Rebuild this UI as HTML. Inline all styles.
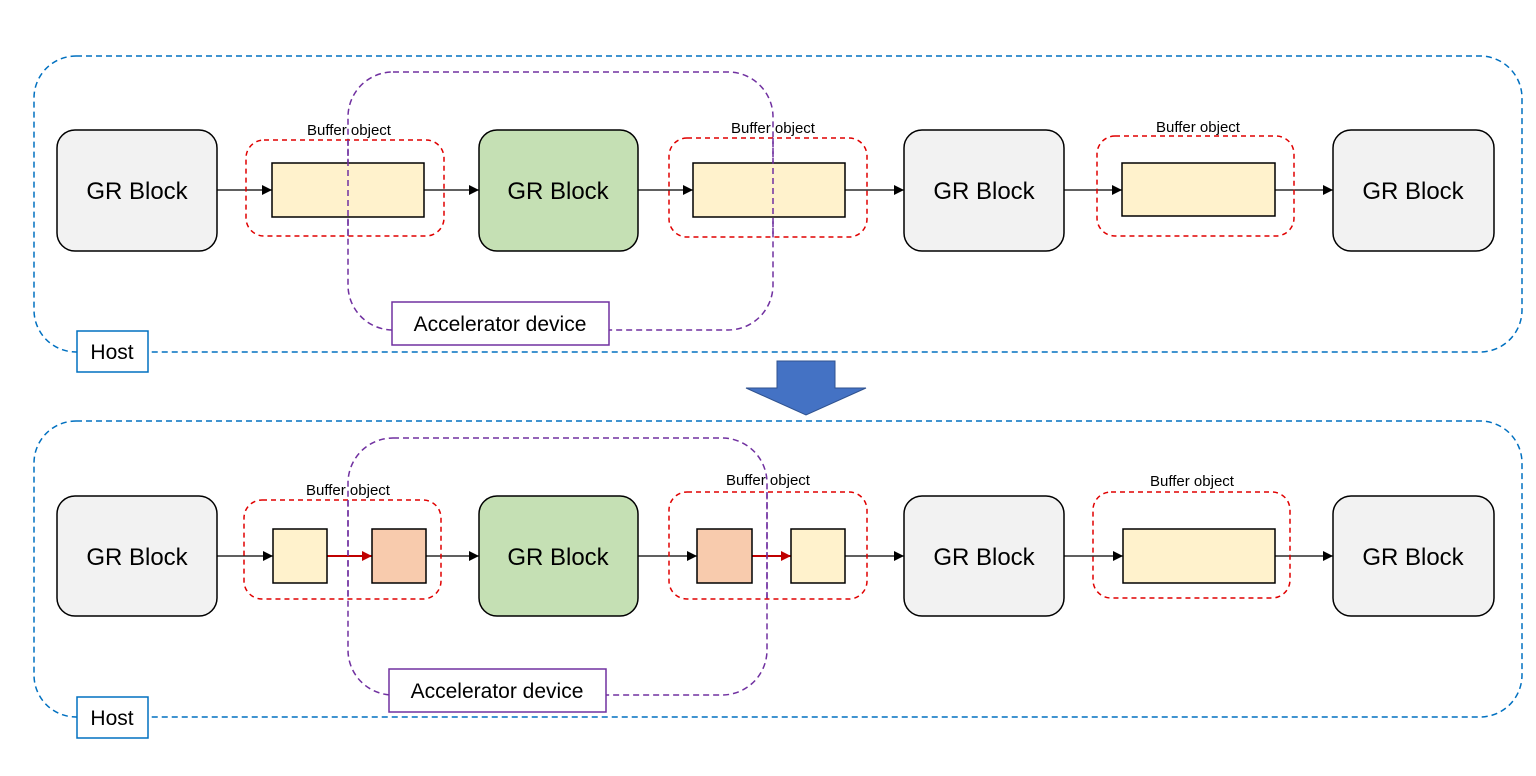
<!DOCTYPE html>
<html><head><meta charset="utf-8"><style>
html,body{margin:0;padding:0;background:#fff;}
svg{display:block;}
text{font-family:"Liberation Sans",sans-serif;}
</style></head><body>
<svg width="1536" height="776" viewBox="0 0 1536 776" xmlns="http://www.w3.org/2000/svg">
<defs>
<marker id="ab" markerWidth="10" markerHeight="10" refX="10" refY="5" orient="auto" markerUnits="userSpaceOnUse"><path d="M0,0 L10,5 L0,10 Z" fill="#000"/></marker>
<marker id="ar" markerWidth="10" markerHeight="10" refX="10" refY="5" orient="auto" markerUnits="userSpaceOnUse"><path d="M0,0 L10,5 L0,10 Z" fill="#c00000"/></marker>
</defs>

<!-- ===== TOP PANEL ===== -->
<rect x="34" y="56" width="1488" height="296" rx="42" fill="none" stroke="#0070c0" stroke-width="1.5" stroke-dasharray="6,4"/>
<rect x="348" y="72" width="425" height="258" rx="45" fill="none" stroke="#7030a0" stroke-width="1.5" stroke-dasharray="6,4"/>

<g stroke="#000" stroke-width="1.3">
<line x1="217" y1="190" x2="272" y2="190" marker-end="url(#ab)"/>
<line x1="424" y1="190" x2="479" y2="190" marker-end="url(#ab)"/>
<line x1="638" y1="190" x2="693" y2="190" marker-end="url(#ab)"/>
<line x1="845" y1="190" x2="904" y2="190" marker-end="url(#ab)"/>
<line x1="1064" y1="190" x2="1122" y2="190" marker-end="url(#ab)"/>
<line x1="1275" y1="190" x2="1333" y2="190" marker-end="url(#ab)"/>
</g>

<rect x="246" y="140" width="198" height="96" rx="18" fill="none" stroke="#e00000" stroke-width="1.5" stroke-dasharray="5,4"/>
<rect x="669" y="138" width="198" height="99" rx="18" fill="none" stroke="#e00000" stroke-width="1.5" stroke-dasharray="5,4"/>
<rect x="1097" y="136" width="197" height="100" rx="18" fill="none" stroke="#e00000" stroke-width="1.5" stroke-dasharray="5,4"/>

<g stroke="#000" stroke-width="1.5">
<rect x="272" y="163" width="152" height="54" fill="#fff2cc"/>
<rect x="693" y="163" width="152" height="54" fill="#fff2cc"/>
<rect x="1122" y="163" width="153" height="53" fill="#fff2cc"/>
<rect x="57" y="130" width="160" height="121" rx="18" fill="#f2f2f2"/>
<rect x="479" y="130" width="159" height="121" rx="18" fill="#c5e0b4"/>
<rect x="904" y="130" width="160" height="121" rx="18" fill="#f2f2f2"/>
<rect x="1333" y="130" width="161" height="121" rx="18" fill="#f2f2f2"/>
</g>
<line x1="348" y1="140" x2="348" y2="236" stroke="#7030a0" stroke-width="1.5" stroke-dasharray="6,4"/>
<line x1="773" y1="138" x2="773" y2="237" stroke="#7030a0" stroke-width="1.5" stroke-dasharray="6,4"/>

<g font-size="24" text-anchor="middle">
<text x="137" y="199">GR Block</text>
<text x="558" y="199">GR Block</text>
<text x="984" y="199">GR Block</text>
<text x="1413" y="199">GR Block</text>
</g>
<g font-size="15" text-anchor="middle">
<text x="349" y="135">Buffer object</text>
<text x="773" y="133">Buffer object</text>
<text x="1198" y="132">Buffer object</text>
</g>

<rect x="392" y="302" width="217" height="43" fill="#fff" stroke="#7030a0" stroke-width="1.5"/>
<text x="500" y="331" font-size="21" text-anchor="middle">Accelerator device</text>
<rect x="77" y="331" width="71" height="41" fill="#fff" stroke="#0070c0" stroke-width="1.5"/>
<text x="112" y="359" font-size="21" text-anchor="middle">Host</text>

<!-- Down arrow -->
<path d="M777,361 L835,361 L835,388 L866,388 L806,415 L746,388 L777,388 Z" fill="#4472c4" stroke="#2f528f" stroke-width="1"/>

<!-- ===== BOTTOM PANEL ===== -->
<rect x="34" y="421" width="1488" height="296" rx="42" fill="none" stroke="#0070c0" stroke-width="1.5" stroke-dasharray="6,4"/>
<rect x="348" y="438" width="419" height="257" rx="45" fill="none" stroke="#7030a0" stroke-width="1.5" stroke-dasharray="6,4"/>

<g stroke="#000" stroke-width="1.3">
<line x1="217" y1="556" x2="273" y2="556" marker-end="url(#ab)"/>
<line x1="426" y1="556" x2="479" y2="556" marker-end="url(#ab)"/>
<line x1="638" y1="556" x2="697" y2="556" marker-end="url(#ab)"/>
<line x1="845" y1="556" x2="904" y2="556" marker-end="url(#ab)"/>
<line x1="1064" y1="556" x2="1123" y2="556" marker-end="url(#ab)"/>
<line x1="1275" y1="556" x2="1333" y2="556" marker-end="url(#ab)"/>
</g>
<g stroke="#c00000" stroke-width="2">
<line x1="327" y1="556" x2="372" y2="556" marker-end="url(#ar)"/>
<line x1="752" y1="556" x2="791" y2="556" marker-end="url(#ar)"/>
</g>

<rect x="244" y="500" width="197" height="99" rx="18" fill="none" stroke="#e00000" stroke-width="1.5" stroke-dasharray="5,4"/>
<rect x="669" y="492" width="198" height="107" rx="18" fill="none" stroke="#e00000" stroke-width="1.5" stroke-dasharray="5,4"/>
<rect x="1093" y="492" width="197" height="106" rx="18" fill="none" stroke="#e00000" stroke-width="1.5" stroke-dasharray="5,4"/>

<g stroke="#000" stroke-width="1.5">
<rect x="273" y="529" width="54" height="54" fill="#fff2cc"/>
<rect x="372" y="529" width="54" height="54" fill="#f8cbad"/>
<rect x="697" y="529" width="55" height="54" fill="#f8cbad"/>
<rect x="791" y="529" width="54" height="54" fill="#fff2cc"/>
<rect x="1123" y="529" width="152" height="54" fill="#fff2cc"/>
<rect x="57" y="496" width="160" height="120" rx="18" fill="#f2f2f2"/>
<rect x="479" y="496" width="159" height="120" rx="18" fill="#c5e0b4"/>
<rect x="904" y="496" width="160" height="120" rx="18" fill="#f2f2f2"/>
<rect x="1333" y="496" width="161" height="120" rx="18" fill="#f2f2f2"/>
</g>
<line x1="348" y1="500" x2="348" y2="599" stroke="#7030a0" stroke-width="1.5" stroke-dasharray="6,4"/>
<line x1="767" y1="492" x2="767" y2="599" stroke="#7030a0" stroke-width="1.5" stroke-dasharray="6,4"/>

<g font-size="24" text-anchor="middle">
<text x="137" y="565">GR Block</text>
<text x="558" y="565">GR Block</text>
<text x="984" y="565">GR Block</text>
<text x="1413" y="565">GR Block</text>
</g>
<g font-size="15" text-anchor="middle">
<text x="348" y="495">Buffer object</text>
<text x="768" y="485">Buffer object</text>
<text x="1192" y="486">Buffer object</text>
</g>

<rect x="389" y="669" width="217" height="43" fill="#fff" stroke="#7030a0" stroke-width="1.5"/>
<text x="497" y="698" font-size="21" text-anchor="middle">Accelerator device</text>
<rect x="77" y="697" width="71" height="41" fill="#fff" stroke="#0070c0" stroke-width="1.5"/>
<text x="112" y="725" font-size="21" text-anchor="middle">Host</text>
</svg>
</body></html>
